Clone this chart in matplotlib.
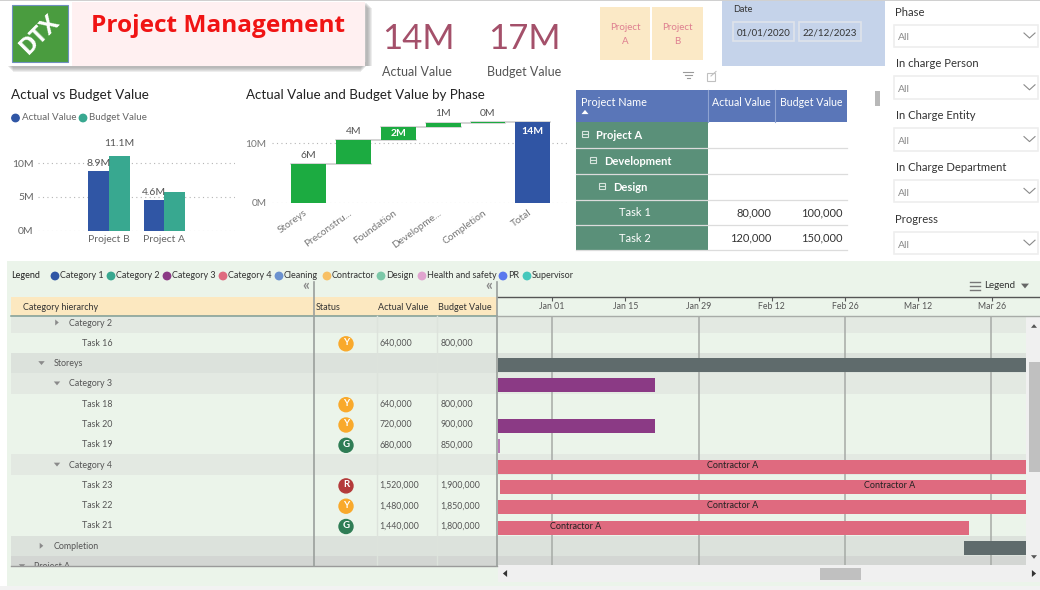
import datetime as dt
import numpy as np
import matplotlib
matplotlib.use('Agg')
import matplotlib.pyplot as plt
import matplotlib.dates as mdates
from matplotlib.patches import Rectangle, Circle, Polygon
from matplotlib.transforms import ScaledTranslation

plt.rcParams['font.family'] = ['Lato', 'DejaVu Sans']

W, H = 1040, 590

# clustered bars
projects = ['Project B', 'Project A']
actual_m = [8.9, 4.6]
budget_m = [11.1, 5.8]
actual_labels = ['8.9M', '4.6M']
budget_labels = ['11.1M', '']

# waterfall
phases = ['Storeys', 'Preconstru...', 'Foundation', 'Developme...', 'Completion', 'Total']
phase_values = [6.5, 4.0, 2.3, 0.7, 0.1]
phase_labels = ['6M', '4M', '2M', '1M', '0M', '14M']
total_value = 13.6

# matrix table
table_names = ['Project A', 'Development', 'Design', 'Task 1', 'Task 2']
table_actual = ['', '', '', '80,000', '120,000']
table_budget = ['', '', '', '100,000', '150,000']

slicers = ['Phase', 'In charge Person', 'In Charge Entity', 'In Charge Department', 'Progress']

legend_names = ['Category 1', 'Category 2', 'Category 3', 'Category 4', 'Cleaning', 'Contractor',
                'Design', 'Health and safety', 'PR', 'Supervisor']
legend_colors = ['#3056a5', '#38a890', '#8b3a85', '#df6a7f', '#6c92cf', '#f8c064',
                 '#7cc8a8', '#e0a4cf', '#5b78ee', '#45c8bc']

# gantt rows
row_names = ['Category 2', 'Task 16', 'Storeys', 'Category 3', 'Task 18', 'Task 20', 'Task 19',
             'Category 4', 'Task 23', 'Task 22', 'Task 21', 'Completion', 'Project A']
row_status = ['', 'Y', '', '', 'Y', 'Y', 'G', '', 'R', 'Y', 'G', '', '']
row_actual = ['', '640,000', '', '', '640,000', '720,000', '680,000', '', '1,520,000', '1,480,000',
              '1,440,000', '', '']
row_budget = ['', '800,000', '', '', '800,000', '900,000', '850,000', '', '1,900,000', '1,850,000',
              '1,800,000', '', '']
row_level = [2, 3, 1, 2, 3, 3, 3, 2, 3, 3, 3, 1, 0]
row_open = [False, None, True, True, None, None, None, True, None, None, None, False, True]

D = dt.datetime
bar_rows = [2, 3, 5, 6, 7, 8, 9, 10, 11]
bar_starts = [D(2020, 12, 1), D(2020, 12, 1), D(2020, 12, 1), D(2020, 12, 21), D(2020, 12, 1),
              D(2020, 12, 22), D(2020, 12, 1), D(2020, 12, 1), D(2021, 3, 20, 18)]
bar_ends = [D(2021, 4, 30), D(2021, 1, 20, 14), D(2021, 1, 20, 14), D(2020, 12, 22), D(2021, 4, 30),
            D(2021, 4, 30), D(2021, 4, 30), D(2021, 3, 21, 18), D(2021, 4, 30)]
bar_colors = ['#5f6b6c', '#8b3a85', '#8b3a85', '#b77ab2', '#df6a7f', '#df6a7f', '#df6a7f', '#df6a7f', '#5f6b6c']
label_rows = [7, 8, 9, 10]
label_dates = [D(2021, 2, 4, 14), D(2021, 3, 6, 16), D(2021, 2, 4, 14), D(2021, 1, 5, 12)]
tick_dates = [D(2021, 1, 1), D(2021, 1, 15), D(2021, 1, 29), D(2021, 2, 12), D(2021, 2, 26),
              D(2021, 3, 12), D(2021, 3, 26)]
gantt_left = D(2020, 12, 21, 14)
gantt_right = D(2021, 4, 1, 17)

ROW0 = 322.5
ROW_H = 20.3

fig = plt.figure(figsize=(W / 100, H / 100), dpi=100, facecolor='white')
bg = fig.add_axes([0, 0, 1, 1])
bg.set_xlim(0, W)
bg.set_ylim(H, 0)
bg.axis('off')


def px_axes(x0, y0, x1, y1):
    a = fig.add_axes([x0 / W, 1 - y1 / H, (x1 - x0) / W, (y1 - y0) / H])
    a.patch.set_alpha(0)
    return a


def rect(x0, y0, x1, y1, color, edge='none', lw=0, z=1, alpha=1):
    bg.add_patch(Rectangle((x0, y0), x1 - x0, y1 - y0, facecolor=color, edgecolor=edge, linewidth=lw,
                           zorder=z, alpha=alpha))


def label(x, y, s, size=7, color='#333333', ha='left', va='center', z=6, **kw):
    bg.text(x, y, s, fontsize=size, color=color, ha=ha, va=va, zorder=z, **kw)


def tri(cx, cy, r, kind, color='#808080', z=6):
    if kind == 'down':
        pts = [(cx - r, cy - r * 0.6), (cx + r, cy - r * 0.6), (cx, cy + r * 0.6)]
    elif kind == 'right':
        pts = [(cx - r * 0.6, cy - r), (cx - r * 0.6, cy + r), (cx + r * 0.6, cy)]
    elif kind == 'left':
        pts = [(cx + r * 0.6, cy - r), (cx + r * 0.6, cy + r), (cx - r * 0.6, cy)]
    else:
        pts = [(cx - r, cy + r * 0.6), (cx + r, cy + r * 0.6), (cx, cy - r * 0.6)]
    bg.add_patch(Polygon(pts, closed=True, facecolor=color, edgecolor='none', zorder=z))


# page edges
rect(0, 0, W, 1.2, '#d0d0d0')
rect(0, 586, W, 590, '#f2f2f2')

# shadows, logo and title banner
for i in range(6):
    rect(8 + i, 62 + i, 366 - i, 67 + i, '#777777', z=1, alpha=0.13)
    rect(362 + i, 3 + i, 367 + i, 66, '#777777', z=1, alpha=0.13)
    rect(71 + i, 3, 75 + i, 64, '#777777', z=2, alpha=0.10)
rect(72, 2, 365, 66, '#fff0f1', z=2)
rect(7, 2, 72, 66, 'white', z=3)
rect(12, 5, 68, 62, '#4a9c3f', edge='#6f8fc0', lw=0.8, z=4)
label(40, 34, 'DTX', size=17, color='white', ha='center', rotation=45, family='Open Sans', weight='bold')
label(91, 26, 'Project Management', size=17.6, color='#f01414', family='Open Sans', weight='bold')

# KPI cards
label(418, 39, '14M', size=25, color='#a4506a', ha='center')
label(524.5, 39, '17M', size=25, color='#a4506a', ha='center')
label(417, 71.5, 'Actual Value', size=9, color='#555555', ha='center')
label(524, 71.5, 'Budget Value', size=9, color='#555555', ha='center')

# project buttons and date slicer
for x0, x1, name in [(600, 650, 'A'), (652, 703, 'B')]:
    rect(x0, 7, x1, 60, '#fbe9c6')
    label((x0 + x1) / 2, 27, 'Project', size=7, color='#de7f90', ha='center')
    label((x0 + x1) / 2, 41, name, size=7, color='#de7f90', ha='center')
rect(722, 1, 885, 66, '#c5d3ea')
label(733, 10, 'Date', size=6.5, color='#333333')
for x0, x1, s in [(733, 794, '01/01/2020'), (799, 861, '22/12/2023')]:
    rect(x0, 22, x1, 41, '#c5d3ea', edge='#dfe3ea', lw=1.2, z=2)
    label((x0 + x1) / 2, 32.5, s, size=7, color='#333333', ha='center')

# little header icons over the table
for k, half in enumerate([5, 3.5, 1.5]):
    bg.plot([688 - half, 688 + half], [71.5 + k * 3, 71.5 + k * 3], color='#9a9a9a', lw=0.8, zorder=4)
rect(707, 73, 715, 81, 'none', edge='#c0c0c0', lw=0.8, z=4)
bg.plot([711, 716], [76, 71.5], color='#c0c0c0', lw=0.8, zorder=4)

# matrix table
rect(576, 90, 847, 122, '#5a76b8', z=2)
label(581, 103, 'Project Name', size=7.8, color='white')
label(741, 103, 'Actual Value', size=7.6, color='white', ha='center')
label(811, 103, 'Budget Value', size=7.6, color='white', ha='center')
tri(585, 112, 3.5, 'up', color='white')
for x in [707.5, 774.5]:
    bg.plot([x, x], [90, 122], color='#8fa3d2', lw=0.8, zorder=3)
row_edges = [122, 148, 174, 200, 225, 250]
indents = [596, 604, 613]
for i, name in enumerate(table_names):
    y0, y1 = row_edges[i], row_edges[i + 1]
    rect(576, y0, 707.5, y1, '#5a9079', z=2)
    bg.plot([576, 847], [y1, y1], color='#dcdcdc', lw=0.9, zorder=3)
    yc = (y0 + y1) / 2 + 0.5
    if i < 3:
        label(indents[i], yc, name, size=8, color='white', weight='bold')
        rect(indents[i] - 14, yc - 5, indents[i] - 8, yc + 1, 'none', edge='#d6e4dd', lw=0.8, z=4)
        bg.plot([indents[i] - 13, indents[i] - 9], [yc - 2, yc - 2], color='#d6e4dd', lw=0.8, zorder=4)
    else:
        label(635, yc, name, size=8, color='white', ha='center')
    label(771, yc, table_actual[i], size=8, color='#333333', ha='right')
    label(843, yc, table_budget[i], size=8, color='#333333', ha='right')
rect(874.5, 91, 879.5, 106, '#b8b8b8', z=2)

# dropdown slicers
for i, name in enumerate(slicers):
    y = 12 + i * 51.8
    label(895.5, y, name, size=8.1, color='#333333')
    rect(893.5, y + 12.5, 1038, y + 35, 'white', edge='#eeeeee', lw=1.2, z=2)
    label(898, y + 26, 'All', size=7.5, color='#8a8a8a')
    bg.plot([1024, 1029.5, 1035], [y + 21, y + 26, y + 21], color='#8a8a8a', lw=0.8, zorder=4)

# clustered column chart
label(11, 95, 'Actual vs Budget Value', size=9.7, color='#222222')
bg.add_patch(Circle((15.5, 118), 3.7, color=legend_colors[0], zorder=4))
label(21.5, 118, 'Actual Value', size=7, color='#666666')
bg.add_patch(Circle((83, 118), 3.7, color=legend_colors[1], zorder=4))
label(89, 118, 'Budget Value', size=7, color='#666666')

ax1 = px_axes(38, 135, 235, 230.5)
ax1.set_ylim(0, 14.25)
spacing = 55.4
ax1.set_xlim((38 - 109) / spacing, (235 - 109) / spacing)
pos = np.arange(len(projects))
bw = 20.7 / spacing
ax1.bar(pos - bw / 2, actual_m, bw, color=legend_colors[0], zorder=3)
ax1.bar(pos + bw / 2, budget_m, bw, color=legend_colors[1], zorder=3)
for i in pos:
    ax1.annotate(actual_labels[i], (i - bw / 2, actual_m[i]), xytext=(0, 2), textcoords='offset points',
                 ha='center', va='bottom', fontsize=7.5, color='#555555', zorder=5)
    ax1.annotate(budget_labels[i], (i + bw / 2, budget_m[i]), xytext=(0, 6), textcoords='offset points',
                 ha='center', va='bottom', fontsize=7.5, color='#555555', zorder=5)
ax1.set_yticks([0, 5, 10], ['0M', '5M', '10M'])
ax1.set_xticks(pos, projects)
ax1.tick_params(length=0, labelsize=7.5, labelcolor='#666666', pad=3)
ax1.grid(axis='y', color='#b5b5b5', ls=(0, (1, 3)), lw=0.8, zorder=0)
for s in ax1.spines.values():
    s.set_visible(False)

# waterfall chart
label(246, 95, 'Actual Value and Budget Value by Phase', size=9.6, color='#222222')
ax2 = px_axes(272, 113, 567, 202.7)
ax2.set_ylim(0, 15.1)
step = 44.8
ax2.set_xlim((272 - 308.7) / step, (567 - 308.7) / step)
bottoms = np.concatenate([[0], np.cumsum(phase_values)[:-1]])
tops = np.cumsum(phase_values)
wf = 34.8 / step
xs = np.arange(len(phases))
ax2.bar(xs[:-1], phase_values, wf, bottom=bottoms, color='#1cab41', zorder=3)
ax2.bar(xs[-1], total_value, wf, color='#3055a4', zorder=3)
for i in xs[:-1]:
    ax2.plot([i - wf / 2, i + 1 + wf / 2], [tops[i], tops[i]], color='#c8c8c8', lw=1.1, zorder=2)
    if i == 2:
        ax2.text(i, (bottoms[i] + tops[i]) / 2, phase_labels[i], color='white', fontsize=7.5,
                 weight='bold', ha='center', va='center', zorder=5)
    else:
        ax2.annotate(phase_labels[i], (i, tops[i]), xytext=(0, 3), textcoords='offset points', ha='center',
                     va='bottom', fontsize=7.5, color='#555555', zorder=5)
ax2.annotate(phase_labels[-1], (xs[-1], total_value), xytext=(0, -4), textcoords='offset points', ha='center',
             va='top', fontsize=7.5, color='white', weight='bold', zorder=5)
ax2.set_yticks([0, 10], ['0M', '10M'])
ax2.set_xticks(xs, phases, rotation=36, ha='right', rotation_mode='anchor')
ax2.tick_params(length=0, labelsize=7.3, labelcolor='#777777', pad=4)
# labels sit a little left of the bar centres
shift = ScaledTranslation(-5 / 100, 0, fig.dpi_scale_trans)
for t in ax2.get_xticklabels():
    t.set_transform(t.get_transform() + shift)
ax2.grid(axis='y', color='#b5b5b5', ls=(0, (1, 3)), lw=0.8, zorder=0)
for s in ax2.spines.values():
    s.set_visible(False)

# gantt panel
rect(7, 261, W, 586, '#ebf4ea', z=1)
label(11, 276, 'Legend', size=6.5, color='#222222')
legend_x = [55, 111, 167, 223, 279, 327, 381, 422, 503, 527]
for x, name, c in zip(legend_x, legend_names, legend_colors):
    bg.add_patch(Circle((x, 276), 3.7, color=c, zorder=4))
    label(x + 5, 276, name, size=6.5, color='#333333')
label(306, 286, '«', size=11, color='#888888', ha='center', weight='bold')
label(489, 286, '«', size=11, color='#888888', ha='center', weight='bold')
for k in range(3):
    bg.plot([970, 980], [282 + k * 4, 282 + k * 4], color='#777777', lw=1, zorder=4)
label(984, 286, 'Legend', size=7, color='#333333')
tri(1025, 286, 4, 'down', color='#666666')

# grid header
rect(11, 297, 497, 315.5, '#fce8c0', z=2)
bg.plot([11, 497], [316, 316], color='#7d9a94', lw=1.1, zorder=3)
label(23, 307, 'Category hierarchy', size=6.5, color='#333333')
label(316, 307, 'Status', size=6.5, color='#333333')
label(377.5, 307, 'Actual Value', size=6.5, color='#333333')
label(438.5, 307, 'Budget Value', size=6.5, color='#333333')

# grid rows
text_x = [34, 53.5, 69, 82]
arrow_x = [22, 41.5, 57]
status_colors = {'Y': '#f9a92b', 'G': '#2f7d55', 'R': '#b43a3a'}
for i, name in enumerate(row_names):
    yc = ROW0 + i * ROW_H
    lev = row_level[i]
    y0, y1 = max(yc - ROW_H / 2, 316.5), yc + ROW_H / 2
    band = {0: '#d3d6d3', 1: '#dce2dc', 2: '#e3e9e2'}.get(lev)
    if band:
        rect(11, y0, 1026, y1, band, z=1.5)
    label(text_x[lev], yc + 0.5, name, size=6.4, color='#555555')
    if row_open[i] is not None:
        tri(arrow_x[lev], yc, 3.2 if row_open[i] else 3, 'down' if row_open[i] else 'right', color='#8a8a8a')
    if row_status[i]:
        bg.add_patch(Circle((346, yc + 1), 7, color=status_colors[row_status[i]], zorder=4))
        label(346, yc, row_status[i], size=7, color='white', ha='center', weight='bold')
    label(379.5, yc + 0.5, row_actual[i], size=6.3, color='#555555')
    label(440.5, yc + 0.5, row_budget[i], size=6.3, color='#555555')
rect(7, 566, 498, 586, '#ebf4ea', z=7)
bg.plot([11, 497], [566, 566], color='#9a9a9a', lw=1, zorder=8)
for x in [376.5, 436.5]:
    bg.plot([x, x], [316, 566], color='#dde3dc', lw=1, zorder=3)
for x in [314, 497]:
    bg.plot([x, x], [282, 566], color='#9a9f9c', lw=1.2, zorder=8)

# gantt bars on a date axis
ax3 = px_axes(498, 316, 1026, 565)
ax3.set_zorder(3)
ax3.set_ylim((565 - ROW0) / ROW_H, (316 - ROW0) / ROW_H)
ax3.set_xlim(gantt_left, gantt_right)
for r, s, e, c in zip(bar_rows, bar_starts, bar_ends, bar_colors):
    ax3.barh(r + 0.1, mdates.date2num(e) - mdates.date2num(s), 0.69, left=mdates.date2num(s), color=c, zorder=3)
for r, d in zip(label_rows, label_dates):
    ax3.text(d, r + 0.03, 'Contractor A', fontsize=6.5, color='#222222', ha='center', va='center', zorder=5)
for d in tick_dates[::2]:
    ax3.axvline(d, color='#a6aaa6', lw=1.1, zorder=1)
ax3.axis('off')

# date header uses the same scale
ax4 = px_axes(497.5, 296.5, 1040, 316)
ax4.set_zorder(3)
ax4.set_xlim(gantt_left, D(2021, 4, 4, 6))
ax4.set_yticks([])
ax4.xaxis.set_major_locator(plt.FixedLocator(mdates.date2num(tick_dates)))
ax4.xaxis.set_major_formatter(mdates.DateFormatter('%b %d'))
ax4.tick_params(axis='x', top=True, bottom=False, labelbottom=True, direction='in', length=3, width=0.8,
                color='#555555', pad=-10, labelsize=6.3, labelcolor='#555555')
for k, s in ax4.spines.items():
    s.set_visible(k in ('top', 'bottom'))
ax4.spines['top'].set_color('#555555')
ax4.spines['top'].set_linewidth(1)
ax4.spines['bottom'].set_color('#a8aca8')
ax4.spines['bottom'].set_linewidth(1)

# scrollbars
rect(1026, 316, W, 566, '#f0f0f0', z=2)
rect(1028.5, 362, W, 472, '#c0c0c0', z=3)
tri(1034, 326, 3, 'up', color='#555555')
tri(1034, 557, 3, 'down', color='#555555')
rect(498, 565, W, 582, '#f0f0f0', z=2)
rect(820, 567.5, 861, 580, '#c0c0c0', z=3)
tri(505, 573.5, 3.5, 'left', color='#333333')
tri(1034, 573.5, 3.5, 'right', color='#333333')

fig.savefig('out.png', dpi=100, facecolor='white')
